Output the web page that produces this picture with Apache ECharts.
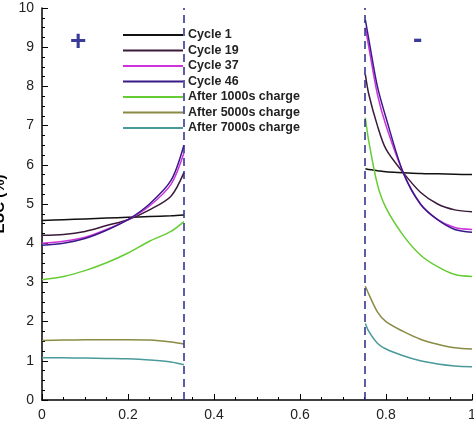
<!DOCTYPE html><html><head><meta charset="utf-8"><script src="https://cdn.jsdelivr.net/npm/echarts@6/dist/echarts.min.js"></script></head><body style="margin:0"><div id="c" style="width:474px;height:428px"></div><script>
const xLeft=[0,0.05,0.1,0.15,0.2,0.25,0.3,0.33];
const xRight=[0.752,0.76,0.78,0.8,0.84,0.88,0.92,0.96,1];
const names=['Cycle 1','Cycle 19','Cycle 37','Cycle 46','After 1000s charge','After 5000s charge','After 7000s charge'];
const colors=['#111111','#3a1a3a','#cc33dd','#3a1a8a','#66cc33','#8a8a44','#4a9a9a'];
const leftVals=[
[4.58,4.6,4.62,4.64,4.66,4.68,4.7,4.72],
[4.2,4.22,4.3,4.45,4.6,4.85,5.2,5.8],
[4.0,4.05,4.15,4.35,4.6,4.95,5.5,6.3],
[3.95,4.0,4.12,4.33,4.6,5.0,5.6,6.5],
[3.07,3.15,3.3,3.5,3.75,4.05,4.3,4.55],
[1.52,1.53,1.54,1.54,1.54,1.53,1.48,1.43],
[1.08,1.08,1.07,1.06,1.05,1.02,0.97,0.9]];
const rightVals=[
[5.9,5.88,5.85,5.82,5.8,5.78,5.77,5.76,5.75],
[8.3,7.8,7.0,6.4,5.8,5.3,5.0,4.85,4.8],
[9.5,9.0,7.8,7.0,5.8,5.0,4.6,4.4,4.35],
[9.7,9.2,8.0,7.2,5.8,5.0,4.6,4.35,4.28],
[7.2,6.6,5.5,4.9,4.2,3.7,3.4,3.2,3.15],
[2.9,2.7,2.25,2.0,1.75,1.55,1.42,1.33,1.3],
[1.95,1.75,1.45,1.3,1.13,1.0,0.92,0.87,0.85]];
const series=names.map((n,i)=>({name:n,type:'line',symbol:'none',smooth:0.3,connectNulls:false,lineStyle:{width:1.5,color:colors[i]},itemStyle:{color:colors[i]},
 data:xLeft.map((x,j)=>[x,leftVals[i][j]]).concat([[0.5,null]]).concat(xRight.map((x,j)=>[x,rightVals[i][j]]))}));
series[0].markLine={symbol:'none',silent:true,label:{show:false},lineStyle:{type:[8,5],color:'#2a2a8a',width:1.5},data:[{xAxis:0.33},{xAxis:0.752}]};
const ax={axisLine:{lineStyle:{color:'#000',width:1.5}},axisTick:{inside:true,length:6,lineStyle:{color:'#000'}},minorTick:{show:true,splitNumber:4,length:3,lineStyle:{color:'#000'}},splitLine:{show:false},axisLabel:{color:'#222',fontSize:14,fontFamily:'Liberation Sans'}};
echarts.init(document.getElementById('c')).setOption({animation:false,
grid:{left:42,right:2,top:8,bottom:28,containLabel:false,outerBoundsMode:'none'},
legend:{orient:'vertical',left:118,top:23,itemGap:1.5,itemWidth:60,itemHeight:14,icon:'path://M0,6H60V8H0Z',textStyle:{fontWeight:'bold',fontSize:12.5,fontFamily:'Liberation Sans',color:'#222',lineHeight:14,padding:[0,0,0,0]},data:names},
xAxis:Object.assign({type:'value',min:0,max:1,interval:0.2,name:'X/L',nameLocation:'middle',nameGap:18,nameTextStyle:{fontWeight:'bold',fontSize:15,fontFamily:'Liberation Sans'}},ax,{axisLabel:Object.assign({},ax.axisLabel,{formatter:v=>v===0||v===1?String(v):v.toFixed(1)})}),
yAxis:Object.assign({type:'value',min:0,max:10,interval:1,name:'EUC (%)',nameLocation:'middle',nameGap:28,nameTextStyle:{fontWeight:'bold',fontSize:15,fontFamily:'Liberation Sans'}},ax),
graphic:[{type:'text',left:70,top:28,style:{text:'+',fontSize:28,fontWeight:'bold',fill:'#3a3a9a',fontFamily:'Liberation Sans'}},
{type:'text',left:413,top:26,style:{text:'-',fontSize:28,fontWeight:'bold',fill:'#3a3a9a',fontFamily:'Liberation Sans'}}],
series});
</script></body></html>
